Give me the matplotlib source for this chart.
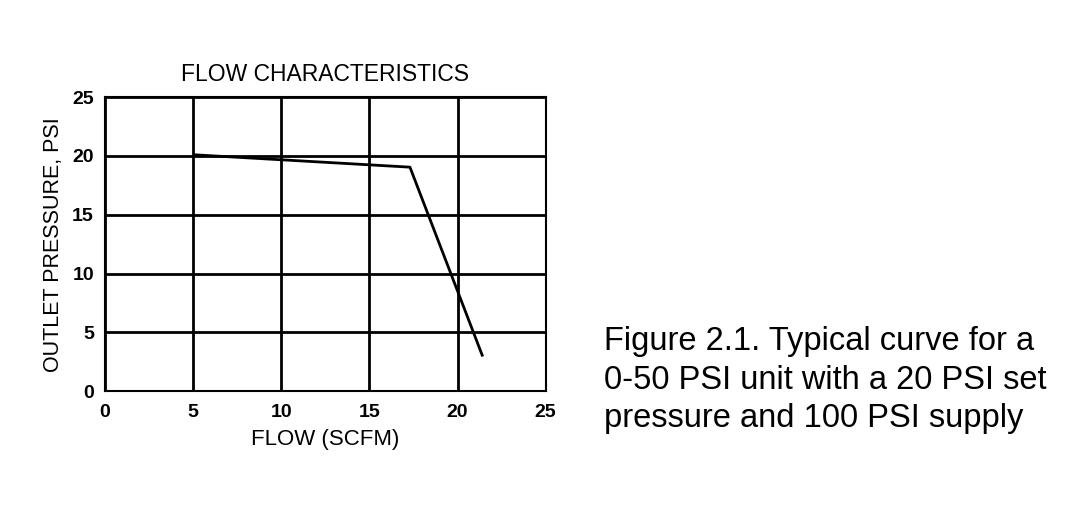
import matplotlib
matplotlib.use("Agg")
import matplotlib.pyplot as plt

flow = [5.1, 17.3, 21.4]
pressure = [20.1, 19.05, 3.05]
ticks = [0, 5, 10, 15, 20, 25]

plt.rcParams['font.family'] = ['Liberation Sans', 'DejaVu Sans']

fig = plt.figure(figsize=(10.72, 5.2), dpi=100)
ax = fig.add_axes([0.098, 0.248, 0.411, 0.565])
ax.plot(flow, pressure, color="black", linewidth=2)
ax.set_xlim(0, 25)
ax.set_ylim(0, 25)
ax.set_xticks(ticks)
ax.set_yticks(ticks)
ax.tick_params(length=0, labelsize=14)
ax.tick_params(axis="x", pad=9)
ax.tick_params(axis="y", pad=8)
for lab in ax.get_xticklabels() + ax.get_yticklabels():
    lab.set_fontweight("bold")
ax.grid(True, color="black", linewidth=2)
for s in ax.spines.values():
    s.set_linewidth(1.5)
ax.set_title("FLOW CHARACTERISTICS", fontsize=16.5, pad=12)
ax.set_xlabel("FLOW (SCFM)", fontsize=16, labelpad=6)
ax.set_ylabel("OUTLET PRESSURE, PSI", fontsize=15.5, labelpad=6)

fig.text(0.563, 0.269, "Figure 2.1. Typical curve for a\n0-50 PSI unit with a 20 PSI set\npressure and 100 PSI supply",
         fontsize=23.5, linespacing=1.32, va="center", ha="left")

fig.savefig("out.png", dpi=100)
